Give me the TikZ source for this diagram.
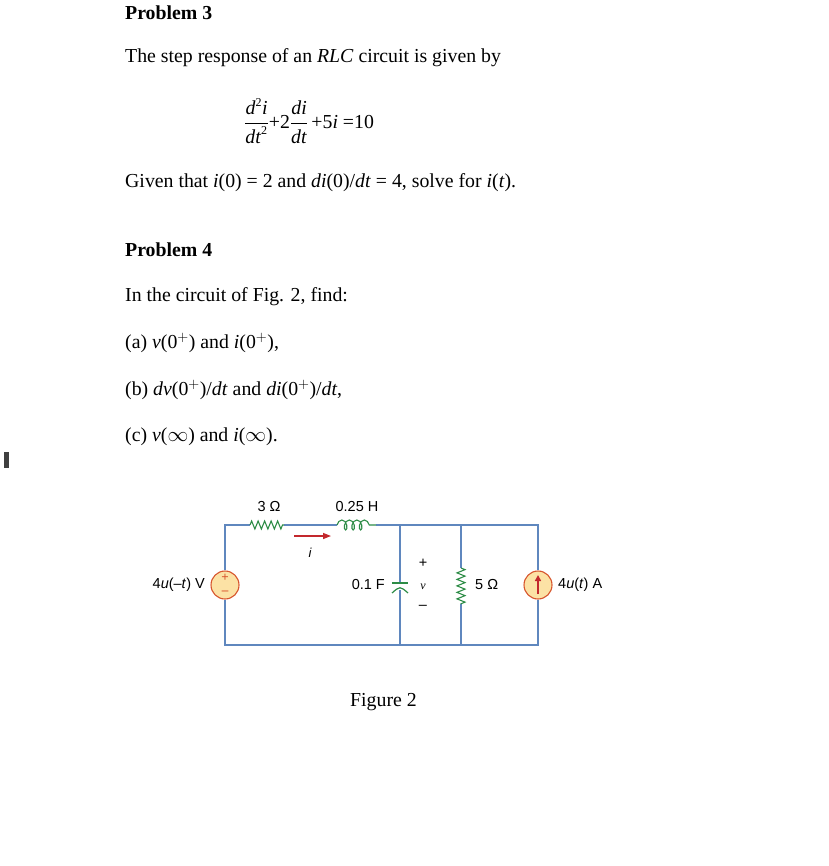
\documentclass[tikz,border=0pt]{standalone}
\usepackage{amsmath}
\usepackage{fontspec}
\setmainfont{Liberation Serif}
\setsansfont{Liberation Sans}
\usetikzlibrary{arrows.meta,decorations.pathmorphing}
\definecolor{wire}{RGB}{95,135,190}
\definecolor{comp}{RGB}{45,140,70}
\definecolor{srcfill}{RGB}{252,226,165}
\definecolor{srcdraw}{RGB}{215,85,45}
\definecolor{arr}{RGB}{195,40,45}
\newcommand{\ti}[1]{\textit{#1}}
\begin{document}
\begin{tikzpicture}[x=1pt,y=-1pt,
  txt/.style={anchor=west,inner sep=0pt,font=\fontsize{19.8}{23}\selectfont},
  ctxt/.style={inner sep=0pt,font=\sffamily\fontsize{14.5}{16}\selectfont},
  w/.style={draw=wire,line width=1.2pt},
  src/.style={circle,draw=srcdraw,fill=srcfill,line width=1.1pt,minimum size=28pt,inner sep=0pt}]
\useasboundingbox (0,0) rectangle (828,866);
\node[txt,font=\bfseries\fontsize{19.8}{23}\selectfont] (p3) at (125,13) {Problem 3};
\node[txt] (t1) at (125,58) {The step response of an \textit{RLC} circuit is given by};
\node[anchor=west,inner sep=0pt,font=\fontsize{19.8}{23}\selectfont] (eq) at (244,121) {$\dfrac{\text{\ti{d}}^{\text{\fontsize{12}{12}\selectfont 2}}\text{\ti{i}}}{\text{\ti{dt}}^{\text{\fontsize{12}{12}\selectfont 2}}}\text{+2}\dfrac{\text{\ti{di}}}{\text{\ti{dt}}}\text{\,+5\ti{i} =10}$};
\node[txt] (t2) at (125,183) {Given that \textit{i}(0) = 2 and \textit{di}(0)/\textit{dt} = 4, solve for \textit{i}(\textit{t}).};
\node[txt,font=\bfseries\fontsize{19.8}{23}\selectfont] (p4) at (125,250) {Problem 4};
\node[txt] (t3) at (125,297) {In the circuit of Fig. 2, find:};
\node[txt] (t4) at (125,343) {(a) \textit{v}(0$^+$) and \textit{i}(0$^+$),};
\node[txt] (t5) at (125,390) {(b) \textit{dv}(0$^+$)/\textit{dt} and \textit{di}(0$^+$)/\textit{dt},};
\node[txt] (t6) at (125,437) {(c) \textit{v}($\infty$) and \textit{i}($\infty$).};
\fill[black!75] (4,452) rectangle (9,468);
\node[txt] (fig) at (350,702) {Figure 2};
% circuit
\coordinate (tl) at (225,525); \coordinate (bl) at (225,645);
\coordinate (tc) at (400,525); \coordinate (bc) at (400,645);
\coordinate (tr5) at (461,525); \coordinate (br5) at (461,645);
\coordinate (tr) at (538,525); \coordinate (br) at (538,645);
\coordinate (r1a) at (250,525); \coordinate (r1b) at (284,525);
\coordinate (l1a) at (337,525); \coordinate (l1b) at (376,525);
\coordinate (c1) at (400,583); \coordinate (c2) at (400,590);
\coordinate (r2a) at (461,568); \coordinate (r2b) at (461,604);
\node[src] (vs) at (225,585) {};
\node[src] (is) at (538,585) {};
\draw[w] (vs.north) -- (tl) -- (r1a);
\draw[w] (r1b) -- (l1a);
\draw[w] (l1b) -- (tr) -- (is.north);
\draw[w] (is.south) -- (br) -- (bl) -- (vs.south);
\draw[w] (tc) -- (c1); \draw[w] (c2) -- (bc);
\draw[w] (tr5) -- (r2a); \draw[w] (r2b) -- (br5);
\draw[draw=comp,line width=1.1pt,decoration={zigzag,segment length=6.5pt,amplitude=4pt},decorate] (r1a) -- (r1b);
\draw[draw=comp,line width=1.1pt,decoration={zigzag,segment length=6.5pt,amplitude=4pt},decorate] (r2a) -- (r2b);
\draw[draw=comp,line width=1.1pt,decoration={coil,segment length=7.5pt,amplitude=5pt,aspect=0.6},decorate] (l1a) -- (l1b);
\draw[draw=comp,line width=1.2pt] (392,583) -- (408,583);
\draw[draw=comp,line width=1.2pt] (392,593) .. controls (400,586) .. (408,593);
\node[font=\bfseries\fontsize{13}{13}\selectfont,text=srcdraw,inner sep=0pt] (vsp) at (225,578) {+};
\node[font=\bfseries\fontsize{13}{13}\selectfont,text=srcdraw,inner sep=0pt] (vsm) at (225,593) {--};
\draw[arr,line width=1.8pt,-{Triangle[length=6pt,width=6pt]}] (is.center)+(0,9) -- +(0,-10);
\coordinate (ia) at (294,536); \coordinate (ib) at (331,536);
\draw[arr,line width=1.4pt,-{Triangle[length=8pt,width=6pt]}] (ia) -- (ib);
\node[ctxt,font=\sffamily\itshape\fontsize{13}{14}\selectfont] (il) at (310,553) {i};
\node[ctxt] (l3) at (269,507) {3 Ω};
\node[ctxt] (l025) at (357,507) {0.25 H};
\node[ctxt,anchor=east] (lv) at (205,585) {4\textit{u}(--\textit{t}) V};
\node[ctxt,anchor=east] (lc) at (385,585) {0.1 F};
\node[ctxt] (pl) at (423,563) {+};
\node[ctxt,font=\itshape\fontsize{12}{12}\selectfont] (vl) at (423,587) {v};
\node[ctxt] (mi) at (423,607) {--};
\node[ctxt,anchor=west] (l5) at (475,585) {5 Ω};
\node[ctxt,anchor=west] (li) at (558,585) {4\textit{u}(\textit{t}) A};
\end{tikzpicture}
\end{document}
